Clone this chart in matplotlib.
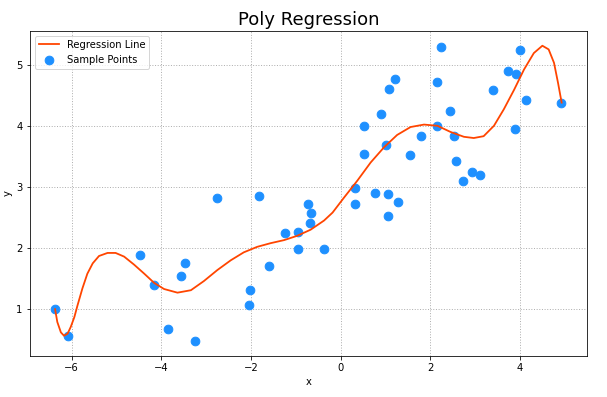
#!/usr/bin/env python

import matplotlib
matplotlib.use("Agg")
import matplotlib.pyplot as plt


# sample points
sample_x = [-6.37, -6.08, -4.48, -4.16, -3.85, -3.56, -3.47, -3.25, -2.76, -2.05,
            -2.03, -1.83, -1.60, -1.25, -0.94, -0.94, -0.73, -0.65, -0.69, -0.38,
            0.33, 0.31, 0.53, 0.53, 0.76, 0.91, 1.02, 1.05, 1.05, 1.07,
            1.22, 1.29, 1.54, 1.80, 2.14, 2.16, 2.25, 2.45, 2.54, 2.58,
            2.72, 2.92, 3.12, 3.39, 3.74, 3.88, 3.92, 4.01, 4.14, 4.92]
sample_y = [1.00, 0.56, 1.88, 1.39, 0.67, 1.54, 1.76, 0.48, 2.82, 1.06,
            1.31, 2.85, 1.70, 2.24, 2.27, 1.99, 2.72, 2.58, 2.41, 1.99,
            2.98, 2.72, 3.99, 3.54, 2.90, 4.20, 3.68, 2.89, 2.53, 4.61,
            4.76, 2.76, 3.52, 3.84, 4.72, 3.99, 5.29, 4.24, 3.83, 3.42,
            3.10, 3.24, 3.19, 4.59, 4.90, 3.94, 4.85, 5.24, 4.43, 4.37]

# regression curve
line_x = [-6.37, -6.32, -6.24, -6.17, -6.09, -6.02, -5.94, -5.87, -5.76, -5.65,
          -5.53, -5.39, -5.20, -5.02, -4.83, -4.61, -4.38, -4.16, -3.94, -3.64,
          -3.34, -3.05, -2.75, -2.45, -2.16, -1.86, -1.56, -1.26, -0.97, -0.67,
          -0.37, -0.18, 0.07, 0.37, 0.67, 0.97, 1.26, 1.56, 1.86, 2.16,
          2.45, 2.75, 2.97, 3.19, 3.42, 3.64, 3.87, 4.09, 4.31, 4.50,
          4.64, 4.76, 4.85, 4.93]
line_y = [1.00, 0.79, 0.62, 0.565, 0.60, 0.71, 0.87, 1.06, 1.34, 1.58,
          1.75, 1.87, 1.92, 1.92, 1.86, 1.73, 1.58, 1.43, 1.33, 1.27,
          1.31, 1.46, 1.64, 1.80, 1.93, 2.02, 2.08, 2.13, 2.20, 2.30,
          2.45, 2.58, 2.82, 3.10, 3.40, 3.65, 3.85, 3.98, 4.02, 4.00,
          3.90, 3.82, 3.80, 3.83, 4.00, 4.27, 4.59, 4.92, 5.19, 5.31,
          5.25, 5.03, 4.70, 4.38]


def main():
    fig, ax = plt.subplots(figsize=(607 / 72, 397 / 72), dpi=72)
    ax.plot(line_x, line_y, color="#ff4500", lw=1.8, label="Regression Line",
            zorder=3)
    ax.scatter(sample_x, sample_y, color="#1e90ff", s=75,
               label="Sample Points", zorder=2)
    ax.set_title("Poly Regression", fontsize=18)
    ax.set_xlabel("x")
    ax.set_ylabel("y")
    ax.grid(True, linestyle=":", color="#b0b0b0", lw=1)
    ax.legend(loc="upper left")
    fig.subplots_adjust(left=0.049, right=0.967, top=0.922, bottom=0.104)
    fig.savefig("out.png", dpi=72)


if __name__ == "__main__":
    main()
